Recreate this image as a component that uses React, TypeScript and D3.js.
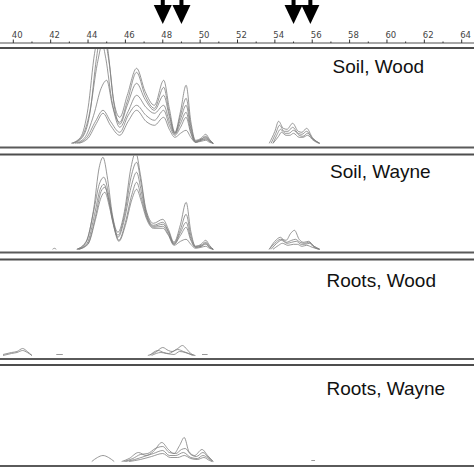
import React from "react";
import * as d3 from "d3";

// ---- data ----
const tickValues = [40, 42, 44, 46, 48, 50, 52, 54, 56, 58, 60, 62, 64];
const minorTickValues = [41, 43, 45, 47, 49, 51, 53, 55, 57, 59, 61, 63];
const arrowValues = [48.0, 49.0, 55.0, 55.9];
const panelLabels = ["Soil, Wood", "Soil, Wayne", "Roots, Wood", "Roots, Wayne"];

type Pt = [number, number];

const soilWood: Pt[][] = [
  [[43.2,0],[43.7,6],[44.1,30],[44.45,85],[44.75,115],[45.05,95],[45.35,45],[45.7,26],[46.1,48],[46.6,75],[47.05,52],[47.55,38],[48.05,63],[48.35,35],[48.65,11],[48.95,32],[49.25,58],[49.5,22],[49.75,3],[50.05,5],[50.3,9],[50.5,4],[50.7,0]],
  [[43.1,0],[43.6,6],[44.0,35],[44.35,90],[44.6,110],[44.95,85],[45.3,40],[45.7,21],[46.1,42],[46.6,71],[47.05,48],[47.55,35],[48.05,56],[48.35,30],[48.65,10],[48.95,28],[49.25,45],[49.5,18],[49.75,2],[50.05,4],[50.3,7],[50.5,3],[50.7,0]],
  [[43.15,0],[43.65,6],[44.1,32],[44.5,80],[44.85,104],[45.15,78],[45.4,38],[45.7,19],[46.1,38],[46.6,60],[47.05,44],[47.55,33],[48.05,48],[48.35,27],[48.65,10],[48.95,24],[49.25,38],[49.5,15],[49.75,2],[50.05,4],[50.3,6],[50.5,3],[50.7,0]],
  [[43.3,0],[43.8,5],[44.3,28],[44.7,55],[45.0,63],[45.3,38],[45.7,16],[46.15,32],[46.6,48],[47.1,36],[47.55,30],[48.05,38],[48.35,22],[48.65,9],[48.95,20],[49.25,31],[49.5,12],[49.75,1],[50.05,3],[50.3,5],[50.5,2],[50.7,0]],
  [[43.4,0],[43.9,5],[44.4,22],[44.8,33],[45.2,22],[45.7,11],[46.15,28],[46.6,38],[47.1,28],[47.55,23],[48.05,33],[48.35,18],[48.65,8],[48.95,16],[49.25,26],[49.5,10],[49.75,1],[50.05,3],[50.3,4],[50.5,2],[50.7,0]],
  [[43.5,0],[44.0,5],[44.45,20],[44.8,30],[45.2,18],[45.7,8],[46.15,22],[46.6,33],[47.1,22],[47.55,18],[48.05,26],[48.35,14],[48.65,6],[48.95,10],[49.25,13],[49.5,6],[49.75,1],[50.05,2],[50.3,3],[50.5,1],[50.7,0]],
  [[53.7,0],[54.0,12],[54.2,22],[54.45,15],[54.65,14],[54.95,20],[55.25,12],[55.45,11],[55.7,15],[56.0,6],[56.4,0]],
  [[53.8,0],[54.05,10],[54.25,18],[54.5,12],[54.7,12],[54.95,16],[55.25,10],[55.45,9],[55.7,12],[56.0,5],[56.4,0]],
  [[53.9,0],[54.1,8],[54.3,14],[54.55,10],[54.75,10],[55.0,13],[55.3,8],[55.5,7],[55.75,10],[56.05,4],[56.4,0]],
  [[53.9,0],[54.2,7],[54.35,11],[54.6,8],[54.8,8],[55.0,10],[55.3,6],[55.5,6],[55.75,8],[56.05,3],[56.35,0]],
];

const soilWayne: Pt[][] = [
  [[43.4,0],[43.9,8],[44.3,40],[44.6,82],[44.8,92],[45.05,70],[45.3,35],[45.6,17],[45.95,38],[46.3,82],[46.55,97],[46.8,75],[47.1,40],[47.5,26],[48.0,30],[48.3,20],[48.6,7],[48.95,25],[49.25,47],[49.5,18],[49.75,3],[50.05,5],[50.3,9],[50.5,4],[50.7,0]],
  [[43.4,0],[43.9,7],[44.3,38],[44.6,65],[44.85,72],[45.1,55],[45.3,32],[45.6,14],[45.95,34],[46.3,72],[46.6,87],[46.85,65],[47.1,38],[47.5,24],[48.0,27],[48.3,18],[48.6,6],[48.95,20],[49.25,35],[49.5,14],[49.75,3],[50.05,4],[50.3,7],[50.5,3],[50.7,0]],
  [[43.45,0],[43.95,6],[44.35,35],[44.65,60],[44.85,65],[45.1,50],[45.3,30],[45.6,12],[45.95,30],[46.3,62],[46.6,77],[46.85,58],[47.1,36],[47.5,23],[48.0,25],[48.3,17],[48.6,5],[48.95,17],[49.25,27],[49.5,11],[49.75,2],[50.05,3],[50.3,6],[50.5,2],[50.7,0]],
  [[43.5,0],[44.0,6],[44.4,33],[44.7,58],[44.9,62],[45.15,46],[45.35,28],[45.65,9],[46.0,27],[46.35,55],[46.6,67],[46.85,52],[47.1,34],[47.5,22],[48.0,23],[48.3,15],[48.6,5],[48.95,14],[49.25,22],[49.5,9],[49.75,2],[50.05,3],[50.3,5],[50.5,2],[50.7,0]],
  [[43.5,0],[44.0,5],[44.4,30],[44.7,52],[44.9,57],[45.15,42],[45.35,25],[45.65,8],[46.0,24],[46.35,50],[46.6,60],[46.85,48],[47.1,32],[47.5,21],[48.0,21],[48.3,14],[48.6,4],[48.95,8],[49.25,10],[49.5,5],[49.75,1],[50.05,2],[50.3,3],[50.5,1],[50.7,0]],
  [[42.1,0],[42.2,1],[42.3,0]],
  [[53.7,0],[54.0,6],[54.3,10],[54.6,9],[54.85,16],[55.05,19],[55.3,10],[55.55,7],[55.8,8],[56.1,3],[56.4,0]],
  [[53.7,0],[54.0,8],[54.3,12],[54.6,7],[54.9,9],[55.1,10],[55.35,7],[55.6,6],[55.8,7],[56.1,3],[56.4,0]],
  [[53.8,0],[54.1,6],[54.35,9],[54.65,6],[54.9,7],[55.15,8],[55.4,5],[55.6,5],[55.85,6],[56.1,2],[56.4,0]],
  [[53.9,0],[54.2,4],[54.4,6],[54.7,4],[55.0,5],[55.2,5],[55.45,3],[55.7,4],[56.0,2],[56.35,0]],
];

const rootsWood: Pt[][] = [
  [[39.45,1],[39.9,3],[40.2,4],[40.5,7],[40.75,4],[41.0,0]],
  [[39.45,0],[39.9,2],[40.2,3],[40.5,5],[40.75,3],[41.0,0]],
  [[42.3,1],[42.65,1]],
  [[47.2,0],[47.6,3],[48.0,8],[48.3,5],[48.5,4],[48.8,7],[49.05,10],[49.3,6],[49.5,2],[49.75,0]],
  [[47.3,0],[47.75,5],[48.05,3],[48.3,2],[48.8,6],[49.1,4],[49.4,2],[49.7,0]],
  [[47.4,0],[47.9,3],[48.2,2],[48.6,1],[48.9,4],[49.2,3],[49.6,0]],
  [[50.1,1],[50.4,1]],
];

const rootsWayne: Pt[][] = [
  [[44.2,0],[44.5,4],[44.8,6],[45.1,4],[45.4,0]],
  [[45.8,0],[46.2,3],[46.7,9],[47.1,6],[47.5,10],[47.95,19],[48.3,12],[48.6,8],[48.9,16],[49.15,24],[49.4,10],[49.7,6],[50.1,12],[50.4,6],[50.7,0]],
  [[45.9,0],[46.4,3],[46.8,7],[47.2,8],[47.6,13],[48.0,15],[48.35,9],[48.7,8],[49.0,12],[49.2,13],[49.5,7],[49.8,5],[50.15,9],[50.45,4],[50.7,0]],
  [[46.0,0],[46.5,2],[47.0,5],[47.5,8],[48.0,11],[48.35,6],[48.7,6],[49.1,9],[49.5,4],[49.85,3],[50.15,6],[50.45,3],[50.65,0]],
  [[46.2,0],[46.8,2],[47.4,5],[48.0,8],[48.4,4],[48.8,4],[49.15,6],[49.5,3],[49.85,2],[50.2,4],[50.5,1],[50.65,0]],
  [[55.95,1],[56.15,1]],
];

const panelTraces = [soilWood, soilWayne, rootsWood, rootsWayne];

// ---- layout ----
const W = 474;
const H = 474;
const panelTops = [48, 154.5, 259.5, 365];
const panelBottoms = [147.5, 252.5, 359, 466];
const panelBaselines = [143.3, 249.3, 355.5, 461.5];
const labelX = [332.5, 330, 326.5, 326.5];
const labelY = [73.3, 178.3, 286.7, 395];
const axisY = 43;

export default function App() {
  const x = d3.scaleLinear().domain([40, 64]).range([13.3, 461.7]);

  return (
    <svg
      width={W}
      height={H}
      style={{ position: "absolute", left: 0, top: 0, background: "#fff" }}
      fontFamily="'Liberation Sans', Arial, sans-serif"
    >
      <rect x={0} y={0} width={W} height={H} fill="#fff" />
      <defs>
        {panelTops.map((t, i) => (
          <clipPath id={`clip${i}`} key={i}>
            <rect x={0} y={t + 1} width={W} height={panelBottoms[i] - t - 2} />
          </clipPath>
        ))}
      </defs>

      {/* axis */}
      <line x1={0} x2={W} y1={axisY} y2={axisY} stroke="#8a8a8a" strokeWidth={1.6} />
      {tickValues.map((v) => (
        <g key={v}>
          <line x1={x(v)} x2={x(v)} y1={39.5} y2={axisY} stroke="#333" strokeWidth={1} />
          <text x={x(v) - 1.5} y={37.5} fontSize={8.5} fill="#444" fontFamily="'DejaVu Sans', sans-serif">
            {v}
          </text>
        </g>
      ))}
      {minorTickValues.map((v) => (
        <line key={v} x1={x(v)} x2={x(v)} y1={41.5} y2={axisY} stroke="#333" strokeWidth={1} />
      ))}

      {/* arrows */}
      {arrowValues.map((v, i) => {
        const cx = x(v);
        const path = d3.path();
        path.moveTo(cx - 9, 5);
        path.lineTo(cx + 9, 5);
        path.lineTo(cx, 24);
        path.closePath();
        return (
          <g key={i}>
            <rect x={cx - 2} y={0} width={4} height={8} fill="#000" />
            <path d={path.toString()} fill="#000" />
          </g>
        );
      })}

      {/* panels */}
      {panelTraces.map((traces, i) => {
        const y = d3
          .scaleLinear()
          .domain([0, 100])
          .range([panelBaselines[i], panelBaselines[i] - 100]);
        const line = d3
          .line<Pt>()
          .x((d) => x(d[0]))
          .y((d) => y(d[1]))
          .curve(d3.curveMonotoneX);
        return (
          <g key={i}>
            <line x1={0} x2={W} y1={panelTops[i]} y2={panelTops[i]} stroke="#4d4d4d" strokeWidth={2.2} />
            <line x1={0} x2={W} y1={panelBottoms[i]} y2={panelBottoms[i]} stroke="#5a5a5a" strokeWidth={2} />
            <g clipPath={`url(#clip${i})`}>
              {traces.map((tr, j) => (
                <path key={j} d={line(tr) || ""} fill="none" stroke="#7d7d7d" strokeWidth={0.8} />
              ))}
            </g>
            <text x={labelX[i]} y={labelY[i]} fontSize={19} fill="#111">
              {panelLabels[i]}
            </text>
          </g>
        );
      })}
    </svg>
  );
}
